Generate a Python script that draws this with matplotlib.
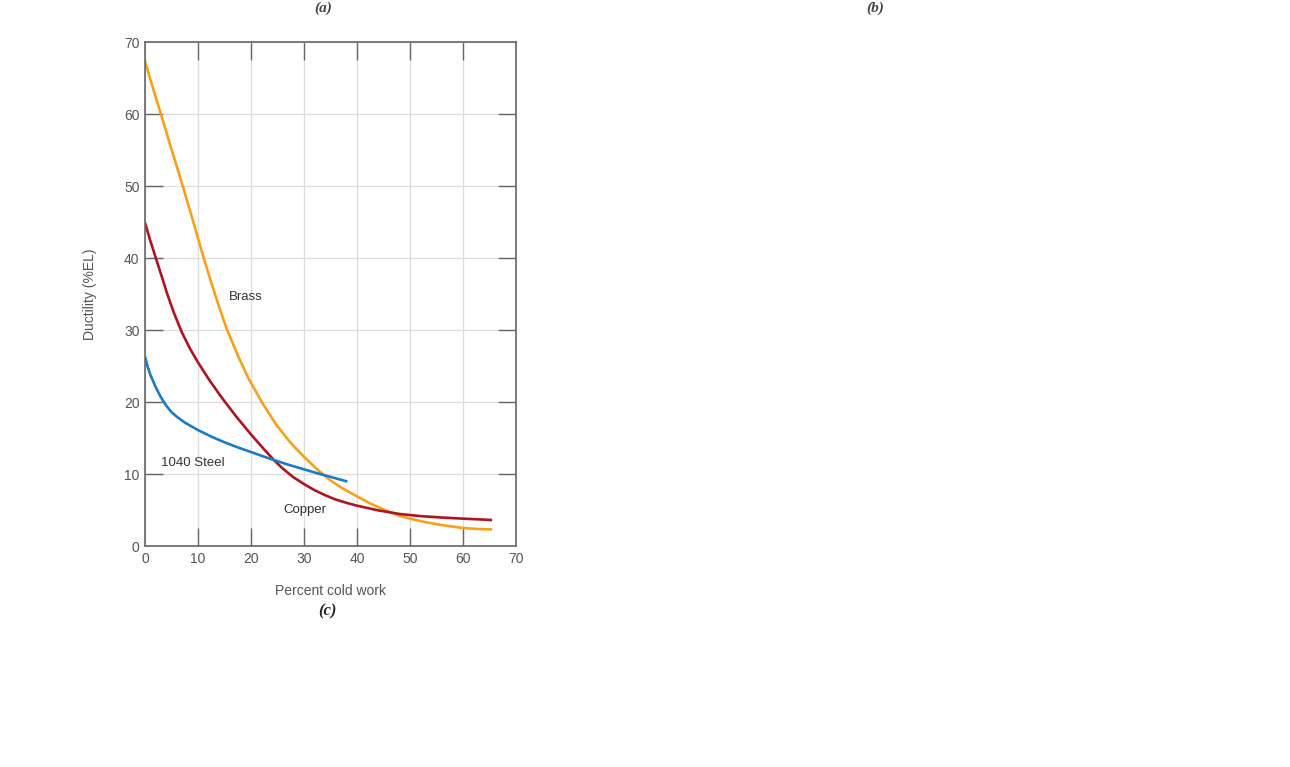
import matplotlib
matplotlib.use("Agg")
import matplotlib.pyplot as plt

# values
brass_x = [0, 1.5, 3, 5, 7.2, 9, 11, 12.5, 13.8, 15.5, 17.5, 19.5, 22.2, 24.8, 27.5, 30,
           32.7, 35, 37.5, 40, 42.5, 45.6, 48, 50, 53, 56, 60, 63, 65.5]
brass_y = [67.3, 63.6, 60, 55.1, 49.8, 45.3, 40.2, 36.6, 33.6, 30, 26.5, 23.3, 19.8, 16.8, 14.3, 12.4,
           10.5, 9.1, 7.9, 6.9, 5.9, 4.9, 4.2, 3.8, 3.3, 2.9, 2.5, 2.35, 2.3]

copper_x = [0, 1, 2, 3, 4.2, 5.5, 7, 8.5, 10, 12, 14, 15, 17.3, 20, 22.5, 24.5, 26, 28, 30,
            32, 34, 36, 38, 40, 44, 48, 52, 56, 60, 63, 65.5]
copper_y = [44.9, 42.4, 40.1, 37.8, 35, 32.3, 29.6, 27.4, 25.5, 23.2, 21.1, 20.1, 17.9, 15.5, 13.4, 11.8,
            10.75, 9.55, 8.6, 7.75, 7.05, 6.45, 6.0, 5.6, 4.95, 4.45, 4.15, 3.95, 3.8, 3.7, 3.6]

steel_x = [0, 0.5, 1, 2, 3, 4, 5, 6, 7.5, 10, 12.5, 15, 17.5, 20, 22.5, 24.5, 27, 30, 32.5, 35, 38.2]
steel_y = [26.3, 24.9, 23.8, 22.1, 20.65, 19.5, 18.6, 17.95, 17.15, 16.1, 15.2, 14.4, 13.7, 13.05, 12.4,
           11.9, 11.3, 10.65, 10.1, 9.6, 8.95]

ticks = [0, 10, 20, 30, 40, 50, 60, 70]

plt.rcParams['font.family'] = ['Liberation Sans', 'DejaVu Sans']
grey = '#555555'

fig = plt.figure(figsize=(12.9, 7.67), dpi=100)
ax = fig.add_axes([145 / 1290, 1 - 546 / 767, 371 / 1290, 504 / 767])

ax.plot(brass_x, brass_y, color='#F7A11A', lw=1.9, solid_capstyle='butt', solid_joinstyle='round')
ax.plot(copper_x, copper_y, color='#B0141E', lw=1.9, solid_capstyle='butt', solid_joinstyle='round')
ax.plot(steel_x, steel_y, color='#1B7BC4', lw=1.9, solid_capstyle='butt', solid_joinstyle='round')

ax.set_xlim(0, 70)
ax.set_ylim(0, 70)
ax.set_xticks(ticks)
ax.set_yticks(ticks)
ax.grid(True, color='#dddddd', lw=0.9)
ax.set_axisbelow(True)
ax.tick_params(direction='in', length=13, width=1.0, color='#666666',
               top=True, right=True, labelsize=10, labelcolor=grey, pad=4)
# no tick marks in the corners
for axis in (ax.xaxis, ax.yaxis):
    tk = axis.get_major_ticks()
    for t in (tk[0], tk[-1]):
        t.tick1line.set_visible(False)
        t.tick2line.set_visible(False)
for s in ax.spines.values():
    s.set_color('#666666')
    s.set_linewidth(1.2)

ax.text(19, 34.6, 'Brass', fontsize=9.5, color='#333333', ha='center', va='center')
ax.text(9, 11.5, '1040 Steel', fontsize=9.5, color='#333333', ha='center', va='center')
ax.text(30.2, 5, 'Copper', fontsize=9.5, color='#333333', ha='center', va='center')

ax.set_xlabel('Percent cold work', fontsize=10, color=grey, labelpad=13)
ax.set_ylabel('Ductility (%EL)', fontsize=10, color=grey, labelpad=19)

fig.text(327 / 1290, 1 - 611 / 767, '(c)', fontsize=12, fontweight='bold', style='italic',
         family='Liberation Serif', color='#222222', ha='center', va='center')
# sub-figure captions of the neighbouring panels, at the top edge
fig.text(323 / 1290, 1 - 2 / 767, '(a)', fontsize=11, fontweight='bold', style='italic',
         family='Liberation Serif', color='#444444', ha='center', va='top')
fig.text(875 / 1290, 1 - 2 / 767, '(b)', fontsize=11, fontweight='bold', style='italic',
         family='Liberation Serif', color='#444444', ha='center', va='top')

fig.savefig('out.png', dpi=100)
